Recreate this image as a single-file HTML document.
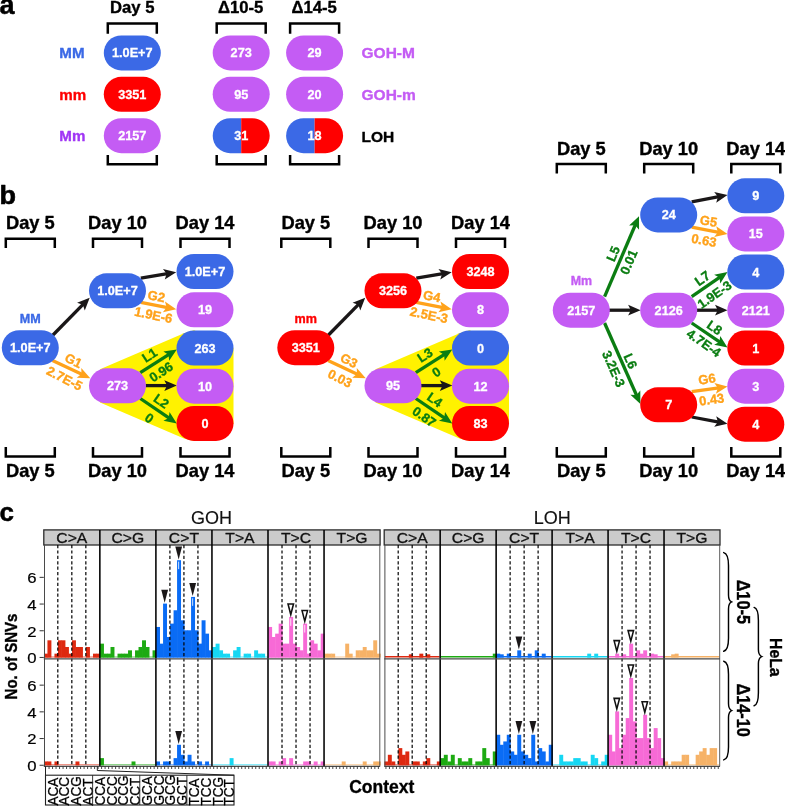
<!DOCTYPE html>
<html lang="en">
<head>
<meta charset="utf-8">
<title>Figure</title>
<style>
html,body{margin:0;padding:0;background:#fff;}
body{width:785px;height:806px;overflow:hidden;}
svg{display:block;font-family:"Liberation Sans",sans-serif;}
</style>
</head>
<body>
<svg width="785" height="806" viewBox="0 0 785 806">
<rect x="0" y="0" width="785" height="806" fill="#fff"/>
<text transform="translate(-0.50,14.20) scale(1.0,1)" font-size="27" font-weight="700" fill="#000000" text-anchor="start" stroke="#000000" stroke-width="0.5" stroke-linejoin="round" >a</text>
<text transform="translate(-0.50,203.50) scale(1.08,1)" font-size="25" font-weight="700" fill="#000000" text-anchor="start" stroke="#000000" stroke-width="0.6" stroke-linejoin="round" >b</text>
<text transform="translate(-0.50,521.20) scale(1.0,1)" font-size="26" font-weight="700" fill="#000000" text-anchor="start" stroke="#000000" stroke-width="0.5" stroke-linejoin="round" >c</text>
<text transform="translate(132.30,12.60) scale(1.0,1)" font-size="16.7" font-weight="700" fill="#000000" text-anchor="middle" stroke="#000000" stroke-width="0.35" stroke-linejoin="round" >Day 5</text>
<text transform="translate(240.60,12.60) scale(1.0,1)" font-size="16.7" font-weight="700" fill="#000000" text-anchor="middle" stroke="#000000" stroke-width="0.35" stroke-linejoin="round" >Δ10-5</text>
<text transform="translate(314.20,12.60) scale(1.0,1)" font-size="16.7" font-weight="700" fill="#000000" text-anchor="middle" stroke="#000000" stroke-width="0.35" stroke-linejoin="round" >Δ14-5</text>
<path d="M107.80,33.70 V23.60 H156.80 V33.70" fill="none" stroke="#000" stroke-width="2.5" stroke-linejoin="miter"/>
<path d="M107.80,155.00 V164.30 H156.80 V155.00" fill="none" stroke="#000" stroke-width="2.5" stroke-linejoin="miter"/>
<path d="M216.70,33.70 V23.60 H265.70 V33.70" fill="none" stroke="#000" stroke-width="2.5" stroke-linejoin="miter"/>
<path d="M216.70,155.00 V164.30 H265.70 V155.00" fill="none" stroke="#000" stroke-width="2.5" stroke-linejoin="miter"/>
<path d="M290.10,33.70 V23.60 H339.10 V33.70" fill="none" stroke="#000" stroke-width="2.5" stroke-linejoin="miter"/>
<path d="M290.10,155.00 V164.30 H339.10 V155.00" fill="none" stroke="#000" stroke-width="2.5" stroke-linejoin="miter"/>
<rect x="103.80" y="35.40" width="57.0" height="35.0" rx="17.5" ry="17.5" fill="#3b69e6"/>
<text x="132.30" y="57.47" font-size="12.7" font-weight="700" fill="#fff" stroke="#fff" stroke-width="0.3" text-anchor="middle">1.0E+7</text>
<rect x="103.80" y="76.80" width="57.0" height="35.0" rx="17.5" ry="17.5" fill="#ff0000"/>
<text x="132.30" y="98.87" font-size="12.7" font-weight="700" fill="#fff" stroke="#fff" stroke-width="0.3" text-anchor="middle">3351</text>
<rect x="103.80" y="118.20" width="57.0" height="35.0" rx="17.5" ry="17.5" fill="#c45cf4"/>
<text x="132.30" y="140.27" font-size="12.7" font-weight="700" fill="#fff" stroke="#fff" stroke-width="0.3" text-anchor="middle">2157</text>
<rect x="212.70" y="35.40" width="57.0" height="35.0" rx="17.5" ry="17.5" fill="#c45cf4"/>
<text x="241.20" y="57.47" font-size="12.7" font-weight="700" fill="#fff" stroke="#fff" stroke-width="0.3" text-anchor="middle">273</text>
<rect x="212.70" y="76.80" width="57.0" height="35.0" rx="17.5" ry="17.5" fill="#c45cf4"/>
<text x="241.20" y="98.87" font-size="12.7" font-weight="700" fill="#fff" stroke="#fff" stroke-width="0.3" text-anchor="middle">95</text>
<path d="M241.20,118.20 H230.20 A17.5,17.5 0 0 0 230.20,153.20 H241.20 Z" fill="#3b69e6"/>
<path d="M241.20,118.20 H252.20 A17.5,17.5 0 0 1 252.20,153.20 H241.20 Z" fill="#ff0000"/>
<text x="241.20" y="140.27" font-size="12.7" font-weight="700" fill="#fff" stroke="#fff" stroke-width="0.3" text-anchor="middle">31</text>
<rect x="286.10" y="35.40" width="57.0" height="35.0" rx="17.5" ry="17.5" fill="#c45cf4"/>
<text x="314.60" y="57.47" font-size="12.7" font-weight="700" fill="#fff" stroke="#fff" stroke-width="0.3" text-anchor="middle">29</text>
<rect x="286.10" y="76.80" width="57.0" height="35.0" rx="17.5" ry="17.5" fill="#c45cf4"/>
<text x="314.60" y="98.87" font-size="12.7" font-weight="700" fill="#fff" stroke="#fff" stroke-width="0.3" text-anchor="middle">20</text>
<path d="M314.60,118.20 H303.60 A17.5,17.5 0 0 0 303.60,153.20 H314.60 Z" fill="#3b69e6"/>
<path d="M314.60,118.20 H325.60 A17.5,17.5 0 0 1 325.60,153.20 H314.60 Z" fill="#ff0000"/>
<text x="314.60" y="140.27" font-size="12.7" font-weight="700" fill="#fff" stroke="#fff" stroke-width="0.3" text-anchor="middle">18</text>
<text transform="translate(59.30,58.40) scale(1.01,1)" font-size="15" font-weight="700" fill="#3b69e6" text-anchor="start" stroke="#3b69e6" stroke-width="0.35" stroke-linejoin="round" >MM</text>
<text transform="translate(59.30,99.80) scale(1.01,1)" font-size="15" font-weight="700" fill="#ff0000" text-anchor="start" stroke="#ff0000" stroke-width="0.35" stroke-linejoin="round" >mm</text>
<text transform="translate(59.30,141.40) scale(1.01,1)" font-size="15" font-weight="700" fill="#a136f5" text-anchor="start" stroke="#a136f5" stroke-width="0.35" stroke-linejoin="round" >Mm</text>
<text transform="translate(361.50,58.40) scale(1.035,1)" font-size="15" font-weight="700" fill="#c45cf4" text-anchor="start" stroke="#c45cf4" stroke-width="0.35" stroke-linejoin="round" >GOH-M</text>
<text transform="translate(361.50,100.00) scale(1.035,1)" font-size="15" font-weight="700" fill="#c45cf4" text-anchor="start" stroke="#c45cf4" stroke-width="0.35" stroke-linejoin="round" >GOH-m</text>
<text transform="translate(361.50,141.60) scale(1.035,1)" font-size="15" font-weight="700" fill="#000000" text-anchor="start" stroke="#000000" stroke-width="0.35" stroke-linejoin="round" >LOH</text>
<text transform="translate(30.30,228.50) scale(1.045,1)" font-size="17.5" font-weight="700" fill="#000000" text-anchor="middle" stroke="#000000" stroke-width="0.35" stroke-linejoin="round" >Day 5</text>
<path d="M5.80,248.10 V238.80 H54.80 V248.10" fill="none" stroke="#000" stroke-width="2.5" stroke-linejoin="miter"/>
<path d="M5.80,447.10 V456.40 H54.80 V447.10" fill="none" stroke="#000" stroke-width="2.5" stroke-linejoin="miter"/>
<text transform="translate(30.30,477.20) scale(1.045,1)" font-size="17.5" font-weight="700" fill="#000000" text-anchor="middle" stroke="#000000" stroke-width="0.35" stroke-linejoin="round" >Day 5</text>
<text transform="translate(117.50,228.50) scale(1.045,1)" font-size="17.5" font-weight="700" fill="#000000" text-anchor="middle" stroke="#000000" stroke-width="0.35" stroke-linejoin="round" >Day 10</text>
<path d="M93.00,248.10 V238.80 H142.00 V248.10" fill="none" stroke="#000" stroke-width="2.5" stroke-linejoin="miter"/>
<path d="M93.00,447.10 V456.40 H142.00 V447.10" fill="none" stroke="#000" stroke-width="2.5" stroke-linejoin="miter"/>
<text transform="translate(117.50,477.20) scale(1.045,1)" font-size="17.5" font-weight="700" fill="#000000" text-anchor="middle" stroke="#000000" stroke-width="0.35" stroke-linejoin="round" >Day 10</text>
<text transform="translate(205.00,228.50) scale(1.045,1)" font-size="17.5" font-weight="700" fill="#000000" text-anchor="middle" stroke="#000000" stroke-width="0.35" stroke-linejoin="round" >Day 14</text>
<path d="M180.50,248.10 V238.80 H229.50 V248.10" fill="none" stroke="#000" stroke-width="2.5" stroke-linejoin="miter"/>
<path d="M180.50,447.10 V456.40 H229.50 V447.10" fill="none" stroke="#000" stroke-width="2.5" stroke-linejoin="miter"/>
<text transform="translate(205.00,477.20) scale(1.045,1)" font-size="17.5" font-weight="700" fill="#000000" text-anchor="middle" stroke="#000000" stroke-width="0.35" stroke-linejoin="round" >Day 14</text>
<polygon points="100.00,369.30 184.00,333.20 194.00,330.30 233.50,348.00 233.50,424.00 194.00,441.00 184.00,438.40 100.00,402.40" fill="#fff200"/>
<line x1="52.50" y1="335.50" x2="83.56" y2="303.94" stroke="#1a1718" stroke-width="3.3"/>
<polygon points="89.70,297.70 84.78,310.40 82.86,304.65 77.08,302.82" fill="#1a1718"/>
<line x1="140.80" y1="278.20" x2="167.57" y2="273.66" stroke="#1a1718" stroke-width="3.3"/>
<polygon points="176.20,272.20 164.78,279.61 166.59,273.83 162.97,268.96" fill="#1a1718"/>
<line x1="140.80" y1="302.40" x2="167.61" y2="307.55" stroke="#ffa21a" stroke-width="3.3"/>
<polygon points="176.20,309.20 162.91,312.15 166.63,307.36 164.94,301.54" fill="#ffa21a"/>
<line x1="52.50" y1="360.50" x2="82.38" y2="374.49" stroke="#ffa21a" stroke-width="3.3"/>
<polygon points="90.30,378.20 76.69,377.79 81.47,374.07 81.27,368.01" fill="#ffa21a"/>
<line x1="140.30" y1="372.60" x2="169.42" y2="354.09" stroke="#0b7d12" stroke-width="3.3"/>
<polygon points="176.80,349.40 169.15,360.66 168.57,354.63 163.35,351.55" fill="#0b7d12"/>
<line x1="145.50" y1="385.60" x2="168.05" y2="385.60" stroke="#1a1718" stroke-width="3.3"/>
<polygon points="176.80,385.60 164.30,391.00 167.05,385.60 164.30,380.20" fill="#1a1718"/>
<line x1="140.30" y1="398.50" x2="169.57" y2="418.47" stroke="#0b7d12" stroke-width="3.3"/>
<polygon points="176.80,423.40 163.43,420.82 168.75,417.91 169.52,411.89" fill="#0b7d12"/>
<rect x="1.80" y="330.20" width="57.0" height="35.0" rx="17.5" ry="17.5" fill="#3b69e6"/>
<text x="30.30" y="352.27" font-size="12.7" font-weight="700" fill="#fff" stroke="#fff" stroke-width="0.3" text-anchor="middle">1.0E+7</text>
<rect x="89.00" y="273.30" width="57.0" height="35.0" rx="17.5" ry="17.5" fill="#3b69e6"/>
<text x="117.50" y="295.37" font-size="12.7" font-weight="700" fill="#fff" stroke="#fff" stroke-width="0.3" text-anchor="middle">1.0E+7</text>
<rect x="89.00" y="368.30" width="57.0" height="35.0" rx="17.5" ry="17.5" fill="#c45cf4"/>
<text x="117.50" y="390.37" font-size="12.7" font-weight="700" fill="#fff" stroke="#fff" stroke-width="0.3" text-anchor="middle">273</text>
<rect x="176.50" y="254.00" width="57.0" height="35.0" rx="17.5" ry="17.5" fill="#3b69e6"/>
<text x="205.00" y="276.07" font-size="12.7" font-weight="700" fill="#fff" stroke="#fff" stroke-width="0.3" text-anchor="middle">1.0E+7</text>
<rect x="176.50" y="292.30" width="57.0" height="35.0" rx="17.5" ry="17.5" fill="#c45cf4"/>
<text x="205.00" y="314.37" font-size="12.7" font-weight="700" fill="#fff" stroke="#fff" stroke-width="0.3" text-anchor="middle">19</text>
<rect x="176.50" y="330.50" width="57.0" height="35.0" rx="17.5" ry="17.5" fill="#3b69e6"/>
<text x="205.00" y="352.57" font-size="12.7" font-weight="700" fill="#fff" stroke="#fff" stroke-width="0.3" text-anchor="middle">263</text>
<rect x="176.50" y="368.70" width="57.0" height="35.0" rx="17.5" ry="17.5" fill="#c45cf4"/>
<text x="205.00" y="390.77" font-size="12.7" font-weight="700" fill="#fff" stroke="#fff" stroke-width="0.3" text-anchor="middle">10</text>
<rect x="176.50" y="405.90" width="57.0" height="35.0" rx="17.5" ry="17.5" fill="#ff0000"/>
<text x="205.00" y="427.97" font-size="12.7" font-weight="700" fill="#fff" stroke="#fff" stroke-width="0.3" text-anchor="middle">0</text>
<text transform="translate(30.30,322.90) scale(1.0,1)" font-size="12.6" font-weight="700" fill="#3b69e6" text-anchor="middle" stroke="#3b69e6" stroke-width="0.35" stroke-linejoin="round" >MM</text>
<text transform="translate(156.50,296.00) rotate(11)" x="0" y="4.68" font-size="13.0" font-weight="700" fill="#ffa21a" stroke="#ffa21a" stroke-width="0.35" text-anchor="middle">G2</text>
<text transform="translate(153.50,314.80) rotate(12)" x="0" y="4.68" font-size="13.0" font-weight="700" fill="#ffa21a" stroke="#ffa21a" stroke-width="0.35" text-anchor="middle">1.9E-6</text>
<text transform="translate(73.50,360.30) rotate(26)" x="0" y="4.68" font-size="13.0" font-weight="700" fill="#ffa21a" stroke="#ffa21a" stroke-width="0.35" text-anchor="middle">G1</text>
<text transform="translate(64.60,378.20) rotate(27)" x="0" y="4.68" font-size="13.0" font-weight="700" fill="#ffa21a" stroke="#ffa21a" stroke-width="0.35" text-anchor="middle">2.7E-5</text>
<text transform="translate(149.50,355.00) rotate(-33)" x="0" y="4.68" font-size="13.0" font-weight="700" fill="#0b7d12" stroke="#0b7d12" stroke-width="0.35" text-anchor="middle">L1</text>
<text transform="translate(161.00,371.80) rotate(-33)" x="0" y="4.68" font-size="13.0" font-weight="700" fill="#0b7d12" stroke="#0b7d12" stroke-width="0.35" text-anchor="middle">0.96</text>
<text transform="translate(161.50,401.00) rotate(35)" x="0" y="4.68" font-size="13.0" font-weight="700" fill="#0b7d12" stroke="#0b7d12" stroke-width="0.35" text-anchor="middle">L2</text>
<text transform="translate(149.30,418.00) rotate(35)" x="0" y="4.68" font-size="13.0" font-weight="700" fill="#0b7d12" stroke="#0b7d12" stroke-width="0.35" text-anchor="middle">0</text>
<text transform="translate(305.80,228.50) scale(1.045,1)" font-size="17.5" font-weight="700" fill="#000000" text-anchor="middle" stroke="#000000" stroke-width="0.35" stroke-linejoin="round" >Day 5</text>
<path d="M281.30,248.10 V238.80 H330.30 V248.10" fill="none" stroke="#000" stroke-width="2.5" stroke-linejoin="miter"/>
<path d="M281.30,447.10 V456.40 H330.30 V447.10" fill="none" stroke="#000" stroke-width="2.5" stroke-linejoin="miter"/>
<text transform="translate(305.80,477.20) scale(1.045,1)" font-size="17.5" font-weight="700" fill="#000000" text-anchor="middle" stroke="#000000" stroke-width="0.35" stroke-linejoin="round" >Day 5</text>
<text transform="translate(393.00,228.50) scale(1.045,1)" font-size="17.5" font-weight="700" fill="#000000" text-anchor="middle" stroke="#000000" stroke-width="0.35" stroke-linejoin="round" >Day 10</text>
<path d="M368.50,248.10 V238.80 H417.50 V248.10" fill="none" stroke="#000" stroke-width="2.5" stroke-linejoin="miter"/>
<path d="M368.50,447.10 V456.40 H417.50 V447.10" fill="none" stroke="#000" stroke-width="2.5" stroke-linejoin="miter"/>
<text transform="translate(393.00,477.20) scale(1.045,1)" font-size="17.5" font-weight="700" fill="#000000" text-anchor="middle" stroke="#000000" stroke-width="0.35" stroke-linejoin="round" >Day 10</text>
<text transform="translate(480.50,228.50) scale(1.045,1)" font-size="17.5" font-weight="700" fill="#000000" text-anchor="middle" stroke="#000000" stroke-width="0.35" stroke-linejoin="round" >Day 14</text>
<path d="M456.00,248.10 V238.80 H505.00 V248.10" fill="none" stroke="#000" stroke-width="2.5" stroke-linejoin="miter"/>
<path d="M456.00,447.10 V456.40 H505.00 V447.10" fill="none" stroke="#000" stroke-width="2.5" stroke-linejoin="miter"/>
<text transform="translate(480.50,477.20) scale(1.045,1)" font-size="17.5" font-weight="700" fill="#000000" text-anchor="middle" stroke="#000000" stroke-width="0.35" stroke-linejoin="round" >Day 14</text>
<polygon points="375.50,369.30 459.50,333.20 469.50,330.30 509.00,348.00 509.00,424.00 469.50,441.00 459.50,438.40 375.50,402.40" fill="#fff200"/>
<line x1="328.00" y1="335.50" x2="359.06" y2="303.94" stroke="#1a1718" stroke-width="3.3"/>
<polygon points="365.20,297.70 360.28,310.40 358.36,304.65 352.58,302.82" fill="#1a1718"/>
<line x1="416.30" y1="278.20" x2="443.07" y2="273.66" stroke="#1a1718" stroke-width="3.3"/>
<polygon points="451.70,272.20 440.28,279.61 442.09,273.83 438.47,268.96" fill="#1a1718"/>
<line x1="416.30" y1="302.40" x2="443.11" y2="307.55" stroke="#ffa21a" stroke-width="3.3"/>
<polygon points="451.70,309.20 438.41,312.15 442.13,307.36 440.44,301.54" fill="#ffa21a"/>
<line x1="328.00" y1="360.50" x2="357.88" y2="374.49" stroke="#ffa21a" stroke-width="3.3"/>
<polygon points="365.80,378.20 352.19,377.79 356.97,374.07 356.77,368.01" fill="#ffa21a"/>
<line x1="415.80" y1="372.60" x2="444.92" y2="354.09" stroke="#0b7d12" stroke-width="3.3"/>
<polygon points="452.30,349.40 444.65,360.66 444.07,354.63 438.85,351.55" fill="#0b7d12"/>
<line x1="421.00" y1="385.60" x2="443.55" y2="385.60" stroke="#1a1718" stroke-width="3.3"/>
<polygon points="452.30,385.60 439.80,391.00 442.55,385.60 439.80,380.20" fill="#1a1718"/>
<line x1="415.80" y1="398.50" x2="445.07" y2="418.47" stroke="#0b7d12" stroke-width="3.3"/>
<polygon points="452.30,423.40 438.93,420.82 444.25,417.91 445.02,411.89" fill="#0b7d12"/>
<rect x="277.30" y="330.20" width="57.0" height="35.0" rx="17.5" ry="17.5" fill="#ff0000"/>
<text x="305.80" y="352.27" font-size="12.7" font-weight="700" fill="#fff" stroke="#fff" stroke-width="0.3" text-anchor="middle">3351</text>
<rect x="364.50" y="273.30" width="57.0" height="35.0" rx="17.5" ry="17.5" fill="#ff0000"/>
<text x="393.00" y="295.37" font-size="12.7" font-weight="700" fill="#fff" stroke="#fff" stroke-width="0.3" text-anchor="middle">3256</text>
<rect x="364.50" y="368.30" width="57.0" height="35.0" rx="17.5" ry="17.5" fill="#c45cf4"/>
<text x="393.00" y="390.37" font-size="12.7" font-weight="700" fill="#fff" stroke="#fff" stroke-width="0.3" text-anchor="middle">95</text>
<rect x="452.00" y="254.00" width="57.0" height="35.0" rx="17.5" ry="17.5" fill="#ff0000"/>
<text x="480.50" y="276.07" font-size="12.7" font-weight="700" fill="#fff" stroke="#fff" stroke-width="0.3" text-anchor="middle">3248</text>
<rect x="452.00" y="292.30" width="57.0" height="35.0" rx="17.5" ry="17.5" fill="#c45cf4"/>
<text x="480.50" y="314.37" font-size="12.7" font-weight="700" fill="#fff" stroke="#fff" stroke-width="0.3" text-anchor="middle">8</text>
<rect x="452.00" y="330.50" width="57.0" height="35.0" rx="17.5" ry="17.5" fill="#3b69e6"/>
<text x="480.50" y="352.57" font-size="12.7" font-weight="700" fill="#fff" stroke="#fff" stroke-width="0.3" text-anchor="middle">0</text>
<rect x="452.00" y="368.70" width="57.0" height="35.0" rx="17.5" ry="17.5" fill="#c45cf4"/>
<text x="480.50" y="390.77" font-size="12.7" font-weight="700" fill="#fff" stroke="#fff" stroke-width="0.3" text-anchor="middle">12</text>
<rect x="452.00" y="405.90" width="57.0" height="35.0" rx="17.5" ry="17.5" fill="#ff0000"/>
<text x="480.50" y="427.97" font-size="12.7" font-weight="700" fill="#fff" stroke="#fff" stroke-width="0.3" text-anchor="middle">83</text>
<text transform="translate(305.80,322.90) scale(1.0,1)" font-size="12.6" font-weight="700" fill="#ff0000" text-anchor="middle" stroke="#ff0000" stroke-width="0.35" stroke-linejoin="round" >mm</text>
<text transform="translate(432.00,296.00) rotate(11)" x="0" y="4.68" font-size="13.0" font-weight="700" fill="#ffa21a" stroke="#ffa21a" stroke-width="0.35" text-anchor="middle">G4</text>
<text transform="translate(429.00,314.80) rotate(12)" x="0" y="4.68" font-size="13.0" font-weight="700" fill="#ffa21a" stroke="#ffa21a" stroke-width="0.35" text-anchor="middle">2.5E-3</text>
<text transform="translate(349.00,360.30) rotate(26)" x="0" y="4.68" font-size="13.0" font-weight="700" fill="#ffa21a" stroke="#ffa21a" stroke-width="0.35" text-anchor="middle">G3</text>
<text transform="translate(340.10,378.20) rotate(27)" x="0" y="4.68" font-size="13.0" font-weight="700" fill="#ffa21a" stroke="#ffa21a" stroke-width="0.35" text-anchor="middle">0.03</text>
<text transform="translate(424.80,355.00) rotate(-33)" x="0" y="4.68" font-size="13.0" font-weight="700" fill="#0b7d12" stroke="#0b7d12" stroke-width="0.35" text-anchor="middle">L3</text>
<text transform="translate(436.10,371.80) rotate(-33)" x="0" y="4.68" font-size="13.0" font-weight="700" fill="#0b7d12" stroke="#0b7d12" stroke-width="0.35" text-anchor="middle">0</text>
<text transform="translate(434.80,399.60) rotate(35)" x="0" y="4.68" font-size="13.0" font-weight="700" fill="#0b7d12" stroke="#0b7d12" stroke-width="0.35" text-anchor="middle">L4</text>
<text transform="translate(424.30,416.60) rotate(35)" x="0" y="4.68" font-size="13.0" font-weight="700" fill="#0b7d12" stroke="#0b7d12" stroke-width="0.35" text-anchor="middle">0.87</text>
<text transform="translate(581.30,154.60) scale(1.045,1)" font-size="17.5" font-weight="700" fill="#000000" text-anchor="middle" stroke="#000000" stroke-width="0.35" stroke-linejoin="round" >Day 5</text>
<path d="M556.80,173.40 V164.10 H605.80 V173.40" fill="none" stroke="#000" stroke-width="2.5" stroke-linejoin="miter"/>
<path d="M556.80,447.10 V456.40 H605.80 V447.10" fill="none" stroke="#000" stroke-width="2.5" stroke-linejoin="miter"/>
<text transform="translate(581.30,477.20) scale(1.045,1)" font-size="17.5" font-weight="700" fill="#000000" text-anchor="middle" stroke="#000000" stroke-width="0.35" stroke-linejoin="round" >Day 5</text>
<text transform="translate(668.70,154.60) scale(1.045,1)" font-size="17.5" font-weight="700" fill="#000000" text-anchor="middle" stroke="#000000" stroke-width="0.35" stroke-linejoin="round" >Day 10</text>
<path d="M644.20,173.40 V164.10 H693.20 V173.40" fill="none" stroke="#000" stroke-width="2.5" stroke-linejoin="miter"/>
<path d="M644.20,447.10 V456.40 H693.20 V447.10" fill="none" stroke="#000" stroke-width="2.5" stroke-linejoin="miter"/>
<text transform="translate(668.70,477.20) scale(1.045,1)" font-size="17.5" font-weight="700" fill="#000000" text-anchor="middle" stroke="#000000" stroke-width="0.35" stroke-linejoin="round" >Day 10</text>
<text transform="translate(755.80,154.60) scale(1.045,1)" font-size="17.5" font-weight="700" fill="#000000" text-anchor="middle" stroke="#000000" stroke-width="0.35" stroke-linejoin="round" >Day 14</text>
<path d="M731.30,173.40 V164.10 H780.30 V173.40" fill="none" stroke="#000" stroke-width="2.5" stroke-linejoin="miter"/>
<path d="M731.30,447.10 V456.40 H780.30 V447.10" fill="none" stroke="#000" stroke-width="2.5" stroke-linejoin="miter"/>
<text transform="translate(755.80,477.20) scale(1.045,1)" font-size="17.5" font-weight="700" fill="#000000" text-anchor="middle" stroke="#000000" stroke-width="0.35" stroke-linejoin="round" >Day 14</text>
<line x1="604.60" y1="296.60" x2="635.56" y2="224.24" stroke="#0b7d12" stroke-width="3.3"/>
<polygon points="639.00,216.20 639.05,229.82 635.16,225.16 629.12,225.57" fill="#0b7d12"/>
<line x1="691.70" y1="201.80" x2="718.90" y2="196.63" stroke="#1a1718" stroke-width="3.3"/>
<polygon points="727.50,195.00 716.23,202.64 717.92,196.82 714.21,192.03" fill="#1a1718"/>
<line x1="691.70" y1="227.20" x2="718.90" y2="232.37" stroke="#ffa21a" stroke-width="3.3"/>
<polygon points="727.50,234.00 714.21,236.97 717.92,232.18 716.23,226.36" fill="#ffa21a"/>
<line x1="609.00" y1="310.20" x2="631.85" y2="310.20" stroke="#1a1718" stroke-width="3.3"/>
<polygon points="640.60,310.20 628.10,315.60 630.85,310.20 628.10,304.80" fill="#1a1718"/>
<line x1="691.70" y1="296.60" x2="720.29" y2="276.96" stroke="#0b7d12" stroke-width="3.3"/>
<polygon points="727.50,272.00 720.26,283.53 719.46,277.52 714.14,274.63" fill="#0b7d12"/>
<line x1="696.00" y1="310.20" x2="718.75" y2="310.20" stroke="#1a1718" stroke-width="3.3"/>
<polygon points="727.50,310.20 715.00,315.60 717.75,310.20 715.00,304.80" fill="#1a1718"/>
<line x1="691.70" y1="323.00" x2="720.27" y2="342.47" stroke="#0b7d12" stroke-width="3.3"/>
<polygon points="727.50,347.40 714.13,344.82 719.44,341.91 720.21,335.90" fill="#0b7d12"/>
<line x1="604.60" y1="323.00" x2="636.86" y2="396.00" stroke="#0b7d12" stroke-width="3.3"/>
<polygon points="640.40,404.00 630.41,394.75 636.46,395.08 640.29,390.38" fill="#0b7d12"/>
<line x1="691.70" y1="391.70" x2="718.84" y2="387.76" stroke="#ffa21a" stroke-width="3.3"/>
<polygon points="727.50,386.50 715.91,393.64 717.85,387.90 714.35,382.95" fill="#ffa21a"/>
<line x1="691.70" y1="417.00" x2="718.90" y2="422.17" stroke="#1a1718" stroke-width="3.3"/>
<polygon points="727.50,423.80 714.21,426.77 717.92,421.98 716.23,416.16" fill="#1a1718"/>
<rect x="552.80" y="292.70" width="57.0" height="35.0" rx="17.5" ry="17.5" fill="#c45cf4"/>
<text x="581.30" y="314.77" font-size="12.7" font-weight="700" fill="#fff" stroke="#fff" stroke-width="0.3" text-anchor="middle">2157</text>
<rect x="640.20" y="197.40" width="57.0" height="35.0" rx="17.5" ry="17.5" fill="#3b69e6"/>
<text x="668.70" y="219.47" font-size="12.7" font-weight="700" fill="#fff" stroke="#fff" stroke-width="0.3" text-anchor="middle">24</text>
<rect x="640.20" y="292.70" width="57.0" height="35.0" rx="17.5" ry="17.5" fill="#c45cf4"/>
<text x="668.70" y="314.77" font-size="12.7" font-weight="700" fill="#fff" stroke="#fff" stroke-width="0.3" text-anchor="middle">2126</text>
<rect x="640.20" y="387.30" width="57.0" height="35.0" rx="17.5" ry="17.5" fill="#ff0000"/>
<text x="668.70" y="409.37" font-size="12.7" font-weight="700" fill="#fff" stroke="#fff" stroke-width="0.3" text-anchor="middle">7</text>
<rect x="727.30" y="178.30" width="57.0" height="35.0" rx="17.5" ry="17.5" fill="#3b69e6"/>
<text x="755.80" y="200.37" font-size="12.7" font-weight="700" fill="#fff" stroke="#fff" stroke-width="0.3" text-anchor="middle">9</text>
<rect x="727.30" y="216.40" width="57.0" height="35.0" rx="17.5" ry="17.5" fill="#c45cf4"/>
<text x="755.80" y="238.47" font-size="12.7" font-weight="700" fill="#fff" stroke="#fff" stroke-width="0.3" text-anchor="middle">15</text>
<rect x="727.30" y="254.50" width="57.0" height="35.0" rx="17.5" ry="17.5" fill="#3b69e6"/>
<text x="755.80" y="276.57" font-size="12.7" font-weight="700" fill="#fff" stroke="#fff" stroke-width="0.3" text-anchor="middle">4</text>
<rect x="727.30" y="292.70" width="57.0" height="35.0" rx="17.5" ry="17.5" fill="#c45cf4"/>
<text x="755.80" y="314.77" font-size="12.7" font-weight="700" fill="#fff" stroke="#fff" stroke-width="0.3" text-anchor="middle">2121</text>
<rect x="727.30" y="330.50" width="57.0" height="35.0" rx="17.5" ry="17.5" fill="#ff0000"/>
<text x="755.80" y="352.57" font-size="12.7" font-weight="700" fill="#fff" stroke="#fff" stroke-width="0.3" text-anchor="middle">1</text>
<rect x="727.30" y="368.70" width="57.0" height="35.0" rx="17.5" ry="17.5" fill="#c45cf4"/>
<text x="755.80" y="390.77" font-size="12.7" font-weight="700" fill="#fff" stroke="#fff" stroke-width="0.3" text-anchor="middle">3</text>
<rect x="727.30" y="406.70" width="57.0" height="35.0" rx="17.5" ry="17.5" fill="#ff0000"/>
<text x="755.80" y="428.77" font-size="12.7" font-weight="700" fill="#fff" stroke="#fff" stroke-width="0.3" text-anchor="middle">4</text>
<text transform="translate(581.30,284.50) scale(1.0,1)" font-size="12.4" font-weight="700" fill="#c45cf4" text-anchor="middle" stroke="#c45cf4" stroke-width="0.35" stroke-linejoin="round" >Mm</text>
<text transform="translate(613.00,253.80) rotate(-67)" x="0" y="4.68" font-size="13.0" font-weight="700" fill="#0b7d12" stroke="#0b7d12" stroke-width="0.35" text-anchor="middle">L5</text>
<text transform="translate(628.60,262.00) rotate(-67)" x="0" y="4.68" font-size="13.0" font-weight="700" fill="#0b7d12" stroke="#0b7d12" stroke-width="0.35" text-anchor="middle">0.01</text>
<text transform="translate(708.60,221.00) rotate(10)" x="0" y="4.68" font-size="13.0" font-weight="700" fill="#ffa21a" stroke="#ffa21a" stroke-width="0.35" text-anchor="middle">G5</text>
<text transform="translate(704.00,240.20) rotate(10)" x="0" y="4.68" font-size="13.0" font-weight="700" fill="#ffa21a" stroke="#ffa21a" stroke-width="0.35" text-anchor="middle">0.63</text>
<text transform="translate(702.20,278.20) rotate(-35)" x="0" y="4.68" font-size="13.0" font-weight="700" fill="#0b7d12" stroke="#0b7d12" stroke-width="0.35" text-anchor="middle">L7</text>
<text transform="translate(714.40,294.40) rotate(-35)" x="0" y="4.68" font-size="13.0" font-weight="700" fill="#0b7d12" stroke="#0b7d12" stroke-width="0.35" text-anchor="middle">1.9E-3</text>
<text transform="translate(714.70,327.50) rotate(35)" x="0" y="4.68" font-size="13.0" font-weight="700" fill="#0b7d12" stroke="#0b7d12" stroke-width="0.35" text-anchor="middle">L8</text>
<text transform="translate(704.00,342.80) rotate(35)" x="0" y="4.68" font-size="13.0" font-weight="700" fill="#0b7d12" stroke="#0b7d12" stroke-width="0.35" text-anchor="middle">4.7E-4</text>
<text transform="translate(630.60,361.00) rotate(66)" x="0" y="4.68" font-size="13.0" font-weight="700" fill="#0b7d12" stroke="#0b7d12" stroke-width="0.35" text-anchor="middle">L6</text>
<text transform="translate(613.80,368.80) rotate(66)" x="0" y="4.68" font-size="13.0" font-weight="700" fill="#0b7d12" stroke="#0b7d12" stroke-width="0.35" text-anchor="middle">3.2E-3</text>
<text transform="translate(707.00,378.90) rotate(-8)" x="0" y="4.68" font-size="13.0" font-weight="700" fill="#ffa21a" stroke="#ffa21a" stroke-width="0.35" text-anchor="middle">G6</text>
<text transform="translate(711.60,399.40) rotate(-8)" x="0" y="4.68" font-size="13.0" font-weight="700" fill="#ffa21a" stroke="#ffa21a" stroke-width="0.35" text-anchor="middle">0.43</text>
<rect x="43.80" y="529.9" width="336.30" height="15.10" fill="#cbcbcb" stroke="#2b2b2b" stroke-width="1.3"/>
<text transform="translate(71.83,542.80) scale(1.1,1)" font-size="14.3" font-weight="400" fill="#111" text-anchor="middle" stroke="#111" stroke-width="0.3" stroke-linejoin="round" >C&gt;A</text>
<rect x="44.40" y="656.50" width="54.85" height="1.0" fill="#de2910" opacity="0.7"/>
<rect x="43.95" y="653.66" width="3.95" height="3.94" fill="#de2910"/>
<rect x="47.45" y="640.31" width="3.95" height="17.29" fill="#de2910"/>
<rect x="54.46" y="653.66" width="3.95" height="3.94" fill="#de2910"/>
<rect x="57.96" y="640.31" width="3.95" height="17.29" fill="#de2910"/>
<rect x="61.47" y="640.31" width="3.95" height="17.29" fill="#de2910"/>
<rect x="64.97" y="646.99" width="3.95" height="10.61" fill="#de2910"/>
<rect x="68.47" y="653.66" width="3.95" height="3.94" fill="#de2910"/>
<rect x="71.98" y="640.31" width="3.95" height="17.29" fill="#de2910"/>
<rect x="75.48" y="646.99" width="3.95" height="10.61" fill="#de2910"/>
<rect x="78.98" y="646.99" width="3.95" height="10.61" fill="#de2910"/>
<rect x="85.99" y="646.99" width="3.95" height="10.61" fill="#de2910"/>
<rect x="92.99" y="653.66" width="3.95" height="3.94" fill="#de2910"/>
<rect x="96.50" y="653.66" width="3.95" height="3.94" fill="#de2910"/>
<rect x="44.40" y="764.30" width="54.85" height="1.0" fill="#de2910" opacity="0.7"/>
<rect x="43.95" y="761.46" width="3.95" height="3.94" fill="#de2910"/>
<rect x="47.45" y="761.46" width="3.95" height="3.94" fill="#de2910"/>
<rect x="54.46" y="761.46" width="3.95" height="3.94" fill="#de2910"/>
<rect x="75.48" y="761.46" width="3.95" height="3.94" fill="#de2910"/>
<text transform="translate(127.88,542.80) scale(1.1,1)" font-size="14.3" font-weight="400" fill="#111" text-anchor="middle" stroke="#111" stroke-width="0.3" stroke-linejoin="round" >C&gt;G</text>
<rect x="100.45" y="656.50" width="54.85" height="1.0" fill="#1daa12" opacity="0.7"/>
<rect x="100.00" y="643.65" width="3.95" height="13.95" fill="#1daa12"/>
<rect x="103.50" y="653.66" width="3.95" height="3.94" fill="#1daa12"/>
<rect x="107.01" y="653.66" width="3.95" height="3.94" fill="#1daa12"/>
<rect x="110.51" y="646.99" width="3.95" height="10.61" fill="#1daa12"/>
<rect x="117.52" y="653.66" width="3.95" height="3.94" fill="#1daa12"/>
<rect x="121.02" y="653.66" width="3.95" height="3.94" fill="#1daa12"/>
<rect x="124.52" y="653.66" width="3.95" height="3.94" fill="#1daa12"/>
<rect x="128.03" y="650.33" width="3.95" height="7.27" fill="#1daa12"/>
<rect x="135.03" y="650.33" width="3.95" height="7.27" fill="#1daa12"/>
<rect x="138.53" y="646.99" width="3.95" height="10.61" fill="#1daa12"/>
<rect x="142.04" y="640.31" width="3.95" height="17.29" fill="#1daa12"/>
<rect x="145.54" y="646.99" width="3.95" height="10.61" fill="#1daa12"/>
<rect x="152.55" y="650.33" width="3.95" height="7.27" fill="#1daa12"/>
<rect x="100.45" y="764.30" width="54.85" height="1.0" fill="#1daa12" opacity="0.7"/>
<rect x="100.00" y="758.12" width="3.95" height="7.27" fill="#1daa12"/>
<rect x="131.53" y="761.46" width="3.95" height="3.94" fill="#1daa12"/>
<text transform="translate(183.93,542.80) scale(1.1,1)" font-size="14.3" font-weight="400" fill="#111" text-anchor="middle" stroke="#111" stroke-width="0.3" stroke-linejoin="round" >C&gt;T</text>
<rect x="156.50" y="656.50" width="54.85" height="1.0" fill="#0a6cf5" opacity="0.7"/>
<rect x="156.05" y="626.96" width="3.95" height="30.64" fill="#0a6cf5"/>
<rect x="159.55" y="643.65" width="3.95" height="13.95" fill="#0a6cf5"/>
<rect x="163.06" y="603.60" width="3.95" height="54.00" fill="#0a6cf5"/>
<rect x="166.56" y="636.98" width="3.95" height="20.62" fill="#0a6cf5"/>
<rect x="170.06" y="623.62" width="3.95" height="33.98" fill="#0a6cf5"/>
<rect x="173.57" y="610.27" width="3.95" height="47.33" fill="#0a6cf5"/>
<rect x="177.07" y="560.21" width="3.95" height="97.39" fill="#0a6cf5"/>
<rect x="180.57" y="620.29" width="3.95" height="37.31" fill="#0a6cf5"/>
<rect x="184.08" y="630.30" width="3.95" height="27.30" fill="#0a6cf5"/>
<rect x="187.58" y="630.30" width="3.95" height="27.30" fill="#0a6cf5"/>
<rect x="191.08" y="596.92" width="3.95" height="60.67" fill="#0a6cf5"/>
<rect x="194.58" y="630.30" width="3.95" height="27.30" fill="#0a6cf5"/>
<rect x="198.09" y="643.65" width="3.95" height="13.95" fill="#0a6cf5"/>
<rect x="201.59" y="620.29" width="3.95" height="37.31" fill="#0a6cf5"/>
<rect x="205.09" y="633.64" width="3.95" height="23.96" fill="#0a6cf5"/>
<rect x="208.60" y="650.33" width="3.95" height="7.27" fill="#0a6cf5"/>
<rect x="156.50" y="764.30" width="54.85" height="1.0" fill="#0a6cf5" opacity="0.7"/>
<rect x="156.05" y="761.46" width="3.95" height="3.94" fill="#0a6cf5"/>
<rect x="163.06" y="761.46" width="3.95" height="3.94" fill="#0a6cf5"/>
<rect x="166.56" y="761.46" width="3.95" height="3.94" fill="#0a6cf5"/>
<rect x="173.57" y="758.12" width="3.95" height="7.27" fill="#0a6cf5"/>
<rect x="177.07" y="744.77" width="3.95" height="20.62" fill="#0a6cf5"/>
<rect x="180.57" y="754.79" width="3.95" height="10.61" fill="#0a6cf5"/>
<rect x="184.08" y="761.46" width="3.95" height="3.94" fill="#0a6cf5"/>
<rect x="187.58" y="754.79" width="3.95" height="10.61" fill="#0a6cf5"/>
<rect x="191.08" y="761.46" width="3.95" height="3.94" fill="#0a6cf5"/>
<rect x="198.09" y="761.46" width="3.95" height="3.94" fill="#0a6cf5"/>
<rect x="205.09" y="761.46" width="3.95" height="3.94" fill="#0a6cf5"/>
<text transform="translate(239.97,542.80) scale(1.1,1)" font-size="14.3" font-weight="400" fill="#111" text-anchor="middle" stroke="#111" stroke-width="0.3" stroke-linejoin="round" >T&gt;A</text>
<rect x="212.55" y="656.50" width="54.85" height="1.0" fill="#16d7f3" opacity="0.7"/>
<rect x="212.10" y="646.99" width="3.95" height="10.61" fill="#16d7f3"/>
<rect x="215.60" y="643.65" width="3.95" height="13.95" fill="#16d7f3"/>
<rect x="219.11" y="650.33" width="3.95" height="7.27" fill="#16d7f3"/>
<rect x="222.61" y="653.66" width="3.95" height="3.94" fill="#16d7f3"/>
<rect x="226.11" y="653.66" width="3.95" height="3.94" fill="#16d7f3"/>
<rect x="233.12" y="650.33" width="3.95" height="7.27" fill="#16d7f3"/>
<rect x="236.62" y="646.99" width="3.95" height="10.61" fill="#16d7f3"/>
<rect x="243.63" y="653.66" width="3.95" height="3.94" fill="#16d7f3"/>
<rect x="247.13" y="653.66" width="3.95" height="3.94" fill="#16d7f3"/>
<rect x="254.14" y="650.33" width="3.95" height="7.27" fill="#16d7f3"/>
<rect x="257.64" y="653.66" width="3.95" height="3.94" fill="#16d7f3"/>
<rect x="261.14" y="653.66" width="3.95" height="3.94" fill="#16d7f3"/>
<rect x="212.55" y="764.30" width="54.85" height="1.0" fill="#16d7f3" opacity="0.7"/>
<rect x="229.62" y="758.12" width="3.95" height="7.27" fill="#16d7f3"/>
<text transform="translate(296.02,542.80) scale(1.1,1)" font-size="14.3" font-weight="400" fill="#111" text-anchor="middle" stroke="#111" stroke-width="0.3" stroke-linejoin="round" >T&gt;C</text>
<rect x="268.60" y="656.50" width="54.85" height="1.0" fill="#f76ad6" opacity="0.7"/>
<rect x="268.15" y="626.96" width="3.95" height="30.64" fill="#f76ad6"/>
<rect x="271.65" y="636.98" width="3.95" height="20.62" fill="#f76ad6"/>
<rect x="275.16" y="633.64" width="3.95" height="23.96" fill="#f76ad6"/>
<rect x="278.66" y="623.62" width="3.95" height="33.98" fill="#f76ad6"/>
<rect x="282.16" y="643.65" width="3.95" height="13.95" fill="#f76ad6"/>
<rect x="285.67" y="643.65" width="3.95" height="13.95" fill="#f76ad6"/>
<rect x="289.17" y="616.95" width="3.95" height="40.65" fill="#f76ad6"/>
<rect x="292.67" y="643.65" width="3.95" height="13.95" fill="#f76ad6"/>
<rect x="296.17" y="646.99" width="3.95" height="10.61" fill="#f76ad6"/>
<rect x="299.68" y="650.33" width="3.95" height="7.27" fill="#f76ad6"/>
<rect x="303.18" y="623.62" width="3.95" height="33.98" fill="#f76ad6"/>
<rect x="306.68" y="653.66" width="3.95" height="3.94" fill="#f76ad6"/>
<rect x="310.19" y="640.31" width="3.95" height="17.29" fill="#f76ad6"/>
<rect x="313.69" y="643.65" width="3.95" height="13.95" fill="#f76ad6"/>
<rect x="317.19" y="650.33" width="3.95" height="7.27" fill="#f76ad6"/>
<rect x="320.70" y="633.64" width="3.95" height="23.96" fill="#f76ad6"/>
<rect x="268.60" y="764.30" width="54.85" height="1.0" fill="#f76ad6" opacity="0.7"/>
<rect x="268.15" y="761.46" width="3.95" height="3.94" fill="#f76ad6"/>
<rect x="271.65" y="761.46" width="3.95" height="3.94" fill="#f76ad6"/>
<rect x="278.66" y="761.46" width="3.95" height="3.94" fill="#f76ad6"/>
<rect x="282.16" y="758.12" width="3.95" height="7.27" fill="#f76ad6"/>
<rect x="289.17" y="758.12" width="3.95" height="7.27" fill="#f76ad6"/>
<rect x="303.18" y="761.46" width="3.95" height="3.94" fill="#f76ad6"/>
<rect x="306.68" y="761.46" width="3.95" height="3.94" fill="#f76ad6"/>
<rect x="313.69" y="761.46" width="3.95" height="3.94" fill="#f76ad6"/>
<rect x="320.70" y="761.46" width="3.95" height="3.94" fill="#f76ad6"/>
<text transform="translate(352.07,542.80) scale(1.1,1)" font-size="14.3" font-weight="400" fill="#111" text-anchor="middle" stroke="#111" stroke-width="0.3" stroke-linejoin="round" >T&gt;G</text>
<rect x="324.65" y="656.50" width="54.85" height="1.0" fill="#f6b267" opacity="0.7"/>
<rect x="324.20" y="653.66" width="3.95" height="3.94" fill="#f6b267"/>
<rect x="327.70" y="653.66" width="3.95" height="3.94" fill="#f6b267"/>
<rect x="331.21" y="653.66" width="3.95" height="3.94" fill="#f6b267"/>
<rect x="345.22" y="643.65" width="3.95" height="13.95" fill="#f6b267"/>
<rect x="348.72" y="653.66" width="3.95" height="3.94" fill="#f6b267"/>
<rect x="355.73" y="650.33" width="3.95" height="7.27" fill="#f6b267"/>
<rect x="359.23" y="650.33" width="3.95" height="7.27" fill="#f6b267"/>
<rect x="362.73" y="646.99" width="3.95" height="10.61" fill="#f6b267"/>
<rect x="366.24" y="650.33" width="3.95" height="7.27" fill="#f6b267"/>
<rect x="369.74" y="650.33" width="3.95" height="7.27" fill="#f6b267"/>
<rect x="373.24" y="640.31" width="3.95" height="17.29" fill="#f6b267"/>
<rect x="376.75" y="653.66" width="3.95" height="3.94" fill="#f6b267"/>
<rect x="324.65" y="764.30" width="54.85" height="1.0" fill="#f6b267" opacity="0.7"/>
<rect x="341.72" y="761.46" width="3.95" height="3.94" fill="#f6b267"/>
<rect x="362.73" y="761.46" width="3.95" height="3.94" fill="#f6b267"/>
<rect x="373.24" y="761.46" width="3.95" height="3.94" fill="#f6b267"/>
<rect x="376.75" y="761.46" width="3.95" height="3.94" fill="#f6b267"/>
<line x1="57.81" y1="545.0" x2="57.81" y2="766.4" stroke="#000" stroke-width="1.2" stroke-dasharray="3.2,2.2"/>
<line x1="71.83" y1="545.0" x2="71.83" y2="766.4" stroke="#000" stroke-width="1.2" stroke-dasharray="3.2,2.2"/>
<line x1="85.84" y1="545.0" x2="85.84" y2="766.4" stroke="#000" stroke-width="1.2" stroke-dasharray="3.2,2.2"/>
<line x1="169.91" y1="545.0" x2="169.91" y2="766.4" stroke="#000" stroke-width="1.2" stroke-dasharray="3.2,2.2"/>
<line x1="183.93" y1="545.0" x2="183.93" y2="766.4" stroke="#000" stroke-width="1.2" stroke-dasharray="3.2,2.2"/>
<line x1="197.94" y1="545.0" x2="197.94" y2="766.4" stroke="#000" stroke-width="1.2" stroke-dasharray="3.2,2.2"/>
<line x1="282.01" y1="545.0" x2="282.01" y2="766.4" stroke="#000" stroke-width="1.2" stroke-dasharray="3.2,2.2"/>
<line x1="296.02" y1="545.0" x2="296.02" y2="766.4" stroke="#000" stroke-width="1.2" stroke-dasharray="3.2,2.2"/>
<line x1="310.04" y1="545.0" x2="310.04" y2="766.4" stroke="#000" stroke-width="1.2" stroke-dasharray="3.2,2.2"/>
<polygon points="161.26,589.80 168.06,589.80 164.66,602.80" fill="#1a1718"/>
<rect x="178.22" y="561.61" width="0.9" height="7.5" fill="#fff" opacity="0.9"/>
<polygon points="175.27,546.41 182.07,546.41 178.67,559.41" fill="#1a1718"/>
<rect x="192.23" y="598.33" width="0.9" height="7.5" fill="#fff" opacity="0.9"/>
<polygon points="189.28,583.12 196.08,583.12 192.68,596.12" fill="#1a1718"/>
<rect x="290.32" y="618.35" width="0.9" height="7.5" fill="#fff" opacity="0.9"/>
<polygon points="288.02,603.90 293.52,603.90 290.77,614.55" fill="#fff" stroke="#111" stroke-width="1.55" stroke-linejoin="miter"/>
<rect x="304.33" y="625.03" width="0.9" height="7.5" fill="#fff" opacity="0.9"/>
<polygon points="302.03,610.58 307.53,610.58 304.78,621.23" fill="#fff" stroke="#111" stroke-width="1.55" stroke-linejoin="miter"/>
<polygon points="175.27,730.98 182.07,730.98 178.67,743.98" fill="#1a1718"/>
<line x1="44.50" y1="545.0" x2="44.50" y2="766.4" stroke="#4a4a4a" stroke-width="1"/>
<line x1="379.80" y1="545.0" x2="379.80" y2="766.4" stroke="#4a4a4a" stroke-width="0.9"/>
<line x1="99.85" y1="529.9" x2="99.85" y2="766.4" stroke="#000" stroke-width="1.55"/>
<line x1="155.90" y1="529.9" x2="155.90" y2="766.4" stroke="#000" stroke-width="1.55"/>
<line x1="211.95" y1="529.9" x2="211.95" y2="766.4" stroke="#000" stroke-width="1.55"/>
<line x1="268.00" y1="529.9" x2="268.00" y2="766.4" stroke="#000" stroke-width="1.55"/>
<line x1="324.05" y1="529.9" x2="324.05" y2="766.4" stroke="#000" stroke-width="1.55"/>
<line x1="43.80" y1="658.9" x2="380.10" y2="658.9" stroke="#4a4a4a" stroke-width="1.3"/>
<line x1="43.80" y1="766.4" x2="380.10" y2="766.4" stroke="#4a4a4a" stroke-width="1.2"/>
<path d="M45.55,766.4v2.6M49.05,766.4v2.6M52.56,766.4v2.6M56.06,766.4v2.6M59.56,766.4v2.6M63.07,766.4v2.6M66.57,766.4v2.6M70.07,766.4v2.6M73.58,766.4v2.6M77.08,766.4v2.6M80.58,766.4v2.6M84.09,766.4v2.6M87.59,766.4v2.6M91.09,766.4v2.6M94.60,766.4v2.6M98.10,766.4v2.6M101.60,766.4v2.6M105.10,766.4v2.6M108.61,766.4v2.6M112.11,766.4v2.6M115.61,766.4v2.6M119.12,766.4v2.6M122.62,766.4v2.6M126.12,766.4v2.6M129.63,766.4v2.6M133.13,766.4v2.6M136.63,766.4v2.6M140.14,766.4v2.6M143.64,766.4v2.6M147.14,766.4v2.6M150.65,766.4v2.6M154.15,766.4v2.6M157.65,766.4v2.6M161.15,766.4v2.6M164.66,766.4v2.6M168.16,766.4v2.6M171.66,766.4v2.6M175.17,766.4v2.6M178.67,766.4v2.6M182.17,766.4v2.6M185.68,766.4v2.6M189.18,766.4v2.6M192.68,766.4v2.6M196.19,766.4v2.6M199.69,766.4v2.6M203.19,766.4v2.6M206.70,766.4v2.6M210.20,766.4v2.6M213.70,766.4v2.6M217.20,766.4v2.6M220.71,766.4v2.6M224.21,766.4v2.6M227.71,766.4v2.6M231.22,766.4v2.6M234.72,766.4v2.6M238.22,766.4v2.6M241.73,766.4v2.6M245.23,766.4v2.6M248.73,766.4v2.6M252.24,766.4v2.6M255.74,766.4v2.6M259.24,766.4v2.6M262.75,766.4v2.6M266.25,766.4v2.6M269.75,766.4v2.6M273.25,766.4v2.6M276.76,766.4v2.6M280.26,766.4v2.6M283.76,766.4v2.6M287.27,766.4v2.6M290.77,766.4v2.6M294.27,766.4v2.6M297.78,766.4v2.6M301.28,766.4v2.6M304.78,766.4v2.6M308.29,766.4v2.6M311.79,766.4v2.6M315.29,766.4v2.6M318.80,766.4v2.6M322.30,766.4v2.6M325.80,766.4v2.6M329.30,766.4v2.6M332.81,766.4v2.6M336.31,766.4v2.6M339.81,766.4v2.6M343.32,766.4v2.6M346.82,766.4v2.6M350.32,766.4v2.6M353.83,766.4v2.6M357.33,766.4v2.6M360.83,766.4v2.6M364.34,766.4v2.6M367.84,766.4v2.6M371.34,766.4v2.6M374.85,766.4v2.6M378.35,766.4v2.6" stroke="#333" stroke-width="0.9" fill="none"/>
<rect x="384.20" y="529.9" width="335.80" height="15.10" fill="#cbcbcb" stroke="#2b2b2b" stroke-width="1.3"/>
<text transform="translate(412.18,542.80) scale(1.1,1)" font-size="14.3" font-weight="400" fill="#111" text-anchor="middle" stroke="#111" stroke-width="0.3" stroke-linejoin="round" >C&gt;A</text>
<rect x="384.80" y="656.00" width="54.77" height="1.5" fill="#de2910" opacity="1.0"/>
<rect x="408.84" y="654.33" width="3.95" height="3.27" fill="#de2910"/>
<rect x="419.33" y="653.66" width="3.95" height="3.94" fill="#de2910"/>
<rect x="426.32" y="654.33" width="3.95" height="3.27" fill="#de2910"/>
<rect x="384.80" y="764.30" width="54.77" height="1.0" fill="#de2910" opacity="0.7"/>
<rect x="384.35" y="761.46" width="3.95" height="3.94" fill="#de2910"/>
<rect x="387.85" y="754.79" width="3.95" height="10.61" fill="#de2910"/>
<rect x="391.35" y="761.46" width="3.95" height="3.94" fill="#de2910"/>
<rect x="398.34" y="748.11" width="3.95" height="17.29" fill="#de2910"/>
<rect x="401.84" y="754.79" width="3.95" height="10.61" fill="#de2910"/>
<rect x="405.34" y="751.45" width="3.95" height="13.95" fill="#de2910"/>
<rect x="412.33" y="761.46" width="3.95" height="3.94" fill="#de2910"/>
<rect x="415.83" y="761.46" width="3.95" height="3.94" fill="#de2910"/>
<rect x="422.83" y="761.46" width="3.95" height="3.94" fill="#de2910"/>
<rect x="426.32" y="758.12" width="3.95" height="7.27" fill="#de2910"/>
<rect x="436.82" y="761.46" width="3.95" height="3.94" fill="#de2910"/>
<text transform="translate(468.15,542.80) scale(1.1,1)" font-size="14.3" font-weight="400" fill="#111" text-anchor="middle" stroke="#111" stroke-width="0.3" stroke-linejoin="round" >C&gt;G</text>
<rect x="440.77" y="656.00" width="54.77" height="1.5" fill="#1daa12" opacity="1.0"/>
<rect x="492.79" y="653.66" width="3.95" height="3.94" fill="#1daa12"/>
<rect x="440.77" y="764.30" width="54.77" height="1.0" fill="#1daa12" opacity="0.7"/>
<rect x="440.32" y="758.12" width="3.95" height="7.27" fill="#1daa12"/>
<rect x="443.81" y="754.79" width="3.95" height="10.61" fill="#1daa12"/>
<rect x="447.31" y="761.46" width="3.95" height="3.94" fill="#1daa12"/>
<rect x="450.81" y="754.79" width="3.95" height="10.61" fill="#1daa12"/>
<rect x="457.81" y="758.12" width="3.95" height="7.27" fill="#1daa12"/>
<rect x="461.30" y="761.46" width="3.95" height="3.94" fill="#1daa12"/>
<rect x="464.80" y="761.46" width="3.95" height="3.94" fill="#1daa12"/>
<rect x="468.30" y="758.12" width="3.95" height="7.27" fill="#1daa12"/>
<rect x="475.30" y="761.46" width="3.95" height="3.94" fill="#1daa12"/>
<rect x="478.79" y="761.46" width="3.95" height="3.94" fill="#1daa12"/>
<rect x="482.29" y="748.11" width="3.95" height="17.29" fill="#1daa12"/>
<rect x="485.79" y="758.12" width="3.95" height="7.27" fill="#1daa12"/>
<rect x="492.79" y="751.45" width="3.95" height="13.95" fill="#1daa12"/>
<text transform="translate(524.12,542.80) scale(1.1,1)" font-size="14.3" font-weight="400" fill="#111" text-anchor="middle" stroke="#111" stroke-width="0.3" stroke-linejoin="round" >C&gt;T</text>
<rect x="496.73" y="656.00" width="54.77" height="1.5" fill="#0a6cf5" opacity="1.0"/>
<rect x="496.28" y="653.66" width="3.95" height="3.94" fill="#0a6cf5"/>
<rect x="499.78" y="654.33" width="3.95" height="3.27" fill="#0a6cf5"/>
<rect x="506.78" y="653.66" width="3.95" height="3.94" fill="#0a6cf5"/>
<rect x="517.27" y="650.33" width="3.95" height="7.27" fill="#0a6cf5"/>
<rect x="527.76" y="653.66" width="3.95" height="3.94" fill="#0a6cf5"/>
<rect x="534.76" y="650.33" width="3.95" height="7.27" fill="#0a6cf5"/>
<rect x="541.76" y="653.66" width="3.95" height="3.94" fill="#0a6cf5"/>
<rect x="496.73" y="764.30" width="54.77" height="1.0" fill="#0a6cf5" opacity="0.7"/>
<rect x="496.28" y="734.76" width="3.95" height="30.64" fill="#0a6cf5"/>
<rect x="499.78" y="744.77" width="3.95" height="20.62" fill="#0a6cf5"/>
<rect x="503.28" y="741.44" width="3.95" height="23.96" fill="#0a6cf5"/>
<rect x="506.78" y="734.76" width="3.95" height="30.64" fill="#0a6cf5"/>
<rect x="510.27" y="751.45" width="3.95" height="13.95" fill="#0a6cf5"/>
<rect x="513.77" y="754.79" width="3.95" height="10.61" fill="#0a6cf5"/>
<rect x="517.27" y="734.76" width="3.95" height="30.64" fill="#0a6cf5"/>
<rect x="520.77" y="751.45" width="3.95" height="13.95" fill="#0a6cf5"/>
<rect x="524.27" y="754.79" width="3.95" height="10.61" fill="#0a6cf5"/>
<rect x="527.76" y="758.12" width="3.95" height="7.27" fill="#0a6cf5"/>
<rect x="531.26" y="734.76" width="3.95" height="30.64" fill="#0a6cf5"/>
<rect x="534.76" y="761.46" width="3.95" height="3.94" fill="#0a6cf5"/>
<rect x="538.26" y="748.11" width="3.95" height="17.29" fill="#0a6cf5"/>
<rect x="541.76" y="751.45" width="3.95" height="13.95" fill="#0a6cf5"/>
<rect x="545.25" y="761.46" width="3.95" height="3.94" fill="#0a6cf5"/>
<rect x="548.75" y="744.77" width="3.95" height="20.62" fill="#0a6cf5"/>
<text transform="translate(580.08,542.80) scale(1.1,1)" font-size="14.3" font-weight="400" fill="#111" text-anchor="middle" stroke="#111" stroke-width="0.3" stroke-linejoin="round" >T&gt;A</text>
<rect x="552.70" y="656.00" width="54.77" height="1.5" fill="#16d7f3" opacity="1.0"/>
<rect x="587.23" y="653.66" width="3.95" height="3.94" fill="#16d7f3"/>
<rect x="594.23" y="653.66" width="3.95" height="3.94" fill="#16d7f3"/>
<rect x="552.70" y="764.30" width="54.77" height="1.0" fill="#16d7f3" opacity="0.7"/>
<rect x="559.25" y="754.79" width="3.95" height="10.61" fill="#16d7f3"/>
<rect x="562.74" y="761.46" width="3.95" height="3.94" fill="#16d7f3"/>
<rect x="566.24" y="761.46" width="3.95" height="3.94" fill="#16d7f3"/>
<rect x="569.74" y="761.46" width="3.95" height="3.94" fill="#16d7f3"/>
<rect x="573.24" y="758.12" width="3.95" height="7.27" fill="#16d7f3"/>
<rect x="576.74" y="758.12" width="3.95" height="7.27" fill="#16d7f3"/>
<rect x="580.23" y="761.46" width="3.95" height="3.94" fill="#16d7f3"/>
<rect x="583.73" y="761.46" width="3.95" height="3.94" fill="#16d7f3"/>
<rect x="590.73" y="754.79" width="3.95" height="10.61" fill="#16d7f3"/>
<rect x="594.23" y="758.12" width="3.95" height="7.27" fill="#16d7f3"/>
<rect x="601.22" y="761.46" width="3.95" height="3.94" fill="#16d7f3"/>
<rect x="604.72" y="754.79" width="3.95" height="10.61" fill="#16d7f3"/>
<text transform="translate(636.05,542.80) scale(1.1,1)" font-size="14.3" font-weight="400" fill="#111" text-anchor="middle" stroke="#111" stroke-width="0.3" stroke-linejoin="round" >T&gt;C</text>
<rect x="608.67" y="656.00" width="54.77" height="1.5" fill="#f76ad6" opacity="1.0"/>
<rect x="615.21" y="653.66" width="3.95" height="3.94" fill="#f76ad6"/>
<rect x="622.21" y="654.33" width="3.95" height="3.27" fill="#f76ad6"/>
<rect x="629.20" y="643.65" width="3.95" height="13.95" fill="#f76ad6"/>
<rect x="636.20" y="650.33" width="3.95" height="7.27" fill="#f76ad6"/>
<rect x="639.70" y="653.66" width="3.95" height="3.94" fill="#f76ad6"/>
<rect x="643.20" y="650.33" width="3.95" height="7.27" fill="#f76ad6"/>
<rect x="650.19" y="653.66" width="3.95" height="3.94" fill="#f76ad6"/>
<rect x="653.69" y="654.33" width="3.95" height="3.27" fill="#f76ad6"/>
<rect x="608.67" y="764.30" width="54.77" height="1.0" fill="#f76ad6" opacity="0.7"/>
<rect x="608.22" y="734.76" width="3.95" height="30.64" fill="#f76ad6"/>
<rect x="611.71" y="751.45" width="3.95" height="13.95" fill="#f76ad6"/>
<rect x="615.21" y="711.40" width="3.95" height="54.00" fill="#f76ad6"/>
<rect x="618.71" y="748.11" width="3.95" height="17.29" fill="#f76ad6"/>
<rect x="622.21" y="734.76" width="3.95" height="30.64" fill="#f76ad6"/>
<rect x="625.71" y="718.07" width="3.95" height="47.33" fill="#f76ad6"/>
<rect x="629.20" y="678.02" width="3.95" height="87.37" fill="#f76ad6"/>
<rect x="632.70" y="721.41" width="3.95" height="43.99" fill="#f76ad6"/>
<rect x="636.20" y="738.10" width="3.95" height="27.30" fill="#f76ad6"/>
<rect x="639.70" y="738.10" width="3.95" height="27.30" fill="#f76ad6"/>
<rect x="643.20" y="714.74" width="3.95" height="50.66" fill="#f76ad6"/>
<rect x="646.69" y="738.10" width="3.95" height="27.30" fill="#f76ad6"/>
<rect x="650.19" y="748.11" width="3.95" height="17.29" fill="#f76ad6"/>
<rect x="653.69" y="728.09" width="3.95" height="37.31" fill="#f76ad6"/>
<rect x="657.19" y="738.10" width="3.95" height="27.30" fill="#f76ad6"/>
<rect x="660.69" y="758.12" width="3.95" height="7.27" fill="#f76ad6"/>
<text transform="translate(692.02,542.80) scale(1.1,1)" font-size="14.3" font-weight="400" fill="#111" text-anchor="middle" stroke="#111" stroke-width="0.3" stroke-linejoin="round" >T&gt;G</text>
<rect x="664.63" y="656.00" width="54.77" height="1.5" fill="#f6b267" opacity="1.0"/>
<rect x="671.18" y="654.33" width="3.95" height="3.27" fill="#f6b267"/>
<rect x="674.68" y="653.66" width="3.95" height="3.94" fill="#f6b267"/>
<rect x="664.63" y="764.30" width="54.77" height="1.0" fill="#f6b267" opacity="0.7"/>
<rect x="664.18" y="761.46" width="3.95" height="3.94" fill="#f6b267"/>
<rect x="671.18" y="761.46" width="3.95" height="3.94" fill="#f6b267"/>
<rect x="674.68" y="761.46" width="3.95" height="3.94" fill="#f6b267"/>
<rect x="678.17" y="761.46" width="3.95" height="3.94" fill="#f6b267"/>
<rect x="681.67" y="754.79" width="3.95" height="10.61" fill="#f6b267"/>
<rect x="685.17" y="754.79" width="3.95" height="10.61" fill="#f6b267"/>
<rect x="695.66" y="754.79" width="3.95" height="10.61" fill="#f6b267"/>
<rect x="699.16" y="751.45" width="3.95" height="13.95" fill="#f6b267"/>
<rect x="702.66" y="748.11" width="3.95" height="17.29" fill="#f6b267"/>
<rect x="706.16" y="754.79" width="3.95" height="10.61" fill="#f6b267"/>
<rect x="709.66" y="748.11" width="3.95" height="17.29" fill="#f6b267"/>
<rect x="713.15" y="748.11" width="3.95" height="17.29" fill="#f6b267"/>
<line x1="398.19" y1="545.0" x2="398.19" y2="766.4" stroke="#000" stroke-width="1.2" stroke-dasharray="3.2,2.2"/>
<line x1="412.18" y1="545.0" x2="412.18" y2="766.4" stroke="#000" stroke-width="1.2" stroke-dasharray="3.2,2.2"/>
<line x1="426.18" y1="545.0" x2="426.18" y2="766.4" stroke="#000" stroke-width="1.2" stroke-dasharray="3.2,2.2"/>
<line x1="510.12" y1="545.0" x2="510.12" y2="766.4" stroke="#000" stroke-width="1.2" stroke-dasharray="3.2,2.2"/>
<line x1="524.12" y1="545.0" x2="524.12" y2="766.4" stroke="#000" stroke-width="1.2" stroke-dasharray="3.2,2.2"/>
<line x1="538.11" y1="545.0" x2="538.11" y2="766.4" stroke="#000" stroke-width="1.2" stroke-dasharray="3.2,2.2"/>
<line x1="622.06" y1="545.0" x2="622.06" y2="766.4" stroke="#000" stroke-width="1.2" stroke-dasharray="3.2,2.2"/>
<line x1="636.05" y1="545.0" x2="636.05" y2="766.4" stroke="#000" stroke-width="1.2" stroke-dasharray="3.2,2.2"/>
<line x1="650.04" y1="545.0" x2="650.04" y2="766.4" stroke="#000" stroke-width="1.2" stroke-dasharray="3.2,2.2"/>
<polygon points="515.47,636.53 522.27,636.53 518.87,649.53" fill="#1a1718"/>
<polygon points="614.06,640.61 619.56,640.61 616.81,651.26" fill="#fff" stroke="#111" stroke-width="1.55" stroke-linejoin="miter"/>
<polygon points="628.05,630.60 633.55,630.60 630.80,641.25" fill="#fff" stroke="#111" stroke-width="1.55" stroke-linejoin="miter"/>
<polygon points="515.47,720.96 522.27,720.96 518.87,733.96" fill="#1a1718"/>
<polygon points="529.46,720.96 536.26,720.96 532.86,733.96" fill="#1a1718"/>
<polygon points="614.06,698.35 619.56,698.35 616.81,709.00" fill="#fff" stroke="#111" stroke-width="1.55" stroke-linejoin="miter"/>
<polygon points="628.05,664.98 633.55,664.98 630.80,675.62" fill="#fff" stroke="#111" stroke-width="1.55" stroke-linejoin="miter"/>
<polygon points="642.04,701.69 647.54,701.69 644.79,712.34" fill="#fff" stroke="#111" stroke-width="1.55" stroke-linejoin="miter"/>
<line x1="384.90" y1="545.0" x2="384.90" y2="766.4" stroke="#4a4a4a" stroke-width="1"/>
<line x1="719.70" y1="545.0" x2="719.70" y2="766.4" stroke="#4a4a4a" stroke-width="0.9"/>
<line x1="440.17" y1="529.9" x2="440.17" y2="766.4" stroke="#000" stroke-width="1.55"/>
<line x1="496.13" y1="529.9" x2="496.13" y2="766.4" stroke="#000" stroke-width="1.55"/>
<line x1="552.10" y1="529.9" x2="552.10" y2="766.4" stroke="#000" stroke-width="1.55"/>
<line x1="608.07" y1="529.9" x2="608.07" y2="766.4" stroke="#000" stroke-width="1.55"/>
<line x1="664.03" y1="529.9" x2="664.03" y2="766.4" stroke="#000" stroke-width="1.55"/>
<line x1="384.20" y1="658.9" x2="720.00" y2="658.9" stroke="#4a4a4a" stroke-width="1.3"/>
<line x1="384.20" y1="766.4" x2="720.00" y2="766.4" stroke="#4a4a4a" stroke-width="1.2"/>
<path d="M385.95,766.4v2.6M389.45,766.4v2.6M392.94,766.4v2.6M396.44,766.4v2.6M399.94,766.4v2.6M403.44,766.4v2.6M406.94,766.4v2.6M410.43,766.4v2.6M413.93,766.4v2.6M417.43,766.4v2.6M420.93,766.4v2.6M424.43,766.4v2.6M427.92,766.4v2.6M431.42,766.4v2.6M434.92,766.4v2.6M438.42,766.4v2.6M441.92,766.4v2.6M445.41,766.4v2.6M448.91,766.4v2.6M452.41,766.4v2.6M455.91,766.4v2.6M459.41,766.4v2.6M462.90,766.4v2.6M466.40,766.4v2.6M469.90,766.4v2.6M473.40,766.4v2.6M476.89,766.4v2.6M480.39,766.4v2.6M483.89,766.4v2.6M487.39,766.4v2.6M490.89,766.4v2.6M494.38,766.4v2.6M497.88,766.4v2.6M501.38,766.4v2.6M504.88,766.4v2.6M508.38,766.4v2.6M511.87,766.4v2.6M515.37,766.4v2.6M518.87,766.4v2.6M522.37,766.4v2.6M525.87,766.4v2.6M529.36,766.4v2.6M532.86,766.4v2.6M536.36,766.4v2.6M539.86,766.4v2.6M543.36,766.4v2.6M546.85,766.4v2.6M550.35,766.4v2.6M553.85,766.4v2.6M557.35,766.4v2.6M560.84,766.4v2.6M564.34,766.4v2.6M567.84,766.4v2.6M571.34,766.4v2.6M574.84,766.4v2.6M578.33,766.4v2.6M581.83,766.4v2.6M585.33,766.4v2.6M588.83,766.4v2.6M592.33,766.4v2.6M595.82,766.4v2.6M599.32,766.4v2.6M602.82,766.4v2.6M606.32,766.4v2.6M609.82,766.4v2.6M613.31,766.4v2.6M616.81,766.4v2.6M620.31,766.4v2.6M623.81,766.4v2.6M627.31,766.4v2.6M630.80,766.4v2.6M634.30,766.4v2.6M637.80,766.4v2.6M641.30,766.4v2.6M644.79,766.4v2.6M648.29,766.4v2.6M651.79,766.4v2.6M655.29,766.4v2.6M658.79,766.4v2.6M662.28,766.4v2.6M665.78,766.4v2.6M669.28,766.4v2.6M672.78,766.4v2.6M676.28,766.4v2.6M679.77,766.4v2.6M683.27,766.4v2.6M686.77,766.4v2.6M690.27,766.4v2.6M693.77,766.4v2.6M697.26,766.4v2.6M700.76,766.4v2.6M704.26,766.4v2.6M707.76,766.4v2.6M711.26,766.4v2.6M714.75,766.4v2.6M718.25,766.4v2.6" stroke="#333" stroke-width="0.9" fill="none"/>
<line x1="39.6" y1="657.45" x2="43.8" y2="657.45" stroke="#333" stroke-width="1"/>
<text transform="translate(36.60,663.35) scale(1.08,1)" font-size="15.5" font-weight="400" fill="#000" text-anchor="end" stroke="#000" stroke-width="0.2" stroke-linejoin="round" >0</text>
<line x1="39.6" y1="630.75" x2="43.8" y2="630.75" stroke="#333" stroke-width="1"/>
<text transform="translate(36.60,636.65) scale(1.08,1)" font-size="15.5" font-weight="400" fill="#000" text-anchor="end" stroke="#000" stroke-width="0.2" stroke-linejoin="round" >2</text>
<line x1="39.6" y1="604.05" x2="43.8" y2="604.05" stroke="#333" stroke-width="1"/>
<text transform="translate(36.60,609.95) scale(1.08,1)" font-size="15.5" font-weight="400" fill="#000" text-anchor="end" stroke="#000" stroke-width="0.2" stroke-linejoin="round" >4</text>
<line x1="39.6" y1="577.35" x2="43.8" y2="577.35" stroke="#333" stroke-width="1"/>
<text transform="translate(36.60,583.25) scale(1.08,1)" font-size="15.5" font-weight="400" fill="#000" text-anchor="end" stroke="#000" stroke-width="0.2" stroke-linejoin="round" >6</text>
<line x1="39.6" y1="765.25" x2="43.8" y2="765.25" stroke="#333" stroke-width="1"/>
<text transform="translate(36.60,771.15) scale(1.08,1)" font-size="15.5" font-weight="400" fill="#000" text-anchor="end" stroke="#000" stroke-width="0.2" stroke-linejoin="round" >0</text>
<line x1="39.6" y1="738.55" x2="43.8" y2="738.55" stroke="#333" stroke-width="1"/>
<text transform="translate(36.60,744.45) scale(1.08,1)" font-size="15.5" font-weight="400" fill="#000" text-anchor="end" stroke="#000" stroke-width="0.2" stroke-linejoin="round" >2</text>
<line x1="39.6" y1="711.85" x2="43.8" y2="711.85" stroke="#333" stroke-width="1"/>
<text transform="translate(36.60,717.75) scale(1.08,1)" font-size="15.5" font-weight="400" fill="#000" text-anchor="end" stroke="#000" stroke-width="0.2" stroke-linejoin="round" >4</text>
<line x1="39.6" y1="685.15" x2="43.8" y2="685.15" stroke="#333" stroke-width="1"/>
<text transform="translate(36.60,691.05) scale(1.08,1)" font-size="15.5" font-weight="400" fill="#000" text-anchor="end" stroke="#000" stroke-width="0.2" stroke-linejoin="round" >6</text>
<text transform="translate(16.9,656.5) rotate(-90) scale(1,1.13)" font-size="15" font-weight="700" fill="#000" stroke="#000" stroke-width="0.35" text-anchor="middle">No. of SNVs</text>
<text transform="translate(211.50,524.30) scale(1.0,1)" font-size="18" font-weight="400" fill="#111" text-anchor="middle" stroke="#111" stroke-width="0.15" stroke-linejoin="round" >GOH</text>
<text transform="translate(552.20,524.30) scale(1.0,1)" font-size="18" font-weight="400" fill="#111" text-anchor="middle" stroke="#111" stroke-width="0.15" stroke-linejoin="round" >LOH</text>
<text transform="translate(381.70,793.20) scale(1.0,1)" font-size="17.5" font-weight="700" fill="#000000" text-anchor="middle" stroke="#000000" stroke-width="0.35" stroke-linejoin="round" >Context</text>
<rect x="45.5" y="775.2" width="188.5" height="29.799999999999955" fill="#fff" stroke="#222" stroke-width="1.1"/>
<path d="M45.5,766.4 V775.2 M97.3,766.4 V770.5 L234.0,775.2" fill="none" stroke="#222" stroke-width="1"/>
<text transform="translate(57.59,805.60) rotate(-90) scale(1,1.09)" font-size="13.6" font-weight="400" fill="#000" stroke="#000" stroke-width="0.25" text-anchor="start">ACA</text>
<text transform="translate(69.37,805.60) rotate(-90) scale(1,1.09)" font-size="13.6" font-weight="400" fill="#000" stroke="#000" stroke-width="0.25" text-anchor="start">ACC</text>
<text transform="translate(81.15,805.60) rotate(-90) scale(1,1.09)" font-size="13.6" font-weight="400" fill="#000" stroke="#000" stroke-width="0.25" text-anchor="start">ACG</text>
<text transform="translate(92.93,805.60) rotate(-90) scale(1,1.09)" font-size="13.6" font-weight="400" fill="#000" stroke="#000" stroke-width="0.25" text-anchor="start">ACT</text>
<text transform="translate(104.72,805.60) rotate(-90) scale(1,1.09)" font-size="13.6" font-weight="400" fill="#000" stroke="#000" stroke-width="0.25" text-anchor="start">CCA</text>
<text transform="translate(116.50,805.60) rotate(-90) scale(1,1.09)" font-size="13.6" font-weight="400" fill="#000" stroke="#000" stroke-width="0.25" text-anchor="start">CCC</text>
<text transform="translate(128.28,805.60) rotate(-90) scale(1,1.09)" font-size="13.6" font-weight="400" fill="#000" stroke="#000" stroke-width="0.25" text-anchor="start">CCG</text>
<text transform="translate(140.06,805.60) rotate(-90) scale(1,1.09)" font-size="13.6" font-weight="400" fill="#000" stroke="#000" stroke-width="0.25" text-anchor="start">CCT</text>
<text transform="translate(151.84,805.60) rotate(-90) scale(1,1.09)" font-size="13.6" font-weight="400" fill="#000" stroke="#000" stroke-width="0.25" text-anchor="start">GCA</text>
<text transform="translate(163.62,805.60) rotate(-90) scale(1,1.09)" font-size="13.6" font-weight="400" fill="#000" stroke="#000" stroke-width="0.25" text-anchor="start">GCC</text>
<text transform="translate(175.40,805.60) rotate(-90) scale(1,1.09)" font-size="13.6" font-weight="400" fill="#000" stroke="#000" stroke-width="0.25" text-anchor="start">GCG</text>
<text transform="translate(187.18,805.60) rotate(-90) scale(1,1.09)" font-size="13.6" font-weight="400" fill="#000" stroke="#000" stroke-width="0.25" text-anchor="start">GCT</text>
<text transform="translate(198.97,805.60) rotate(-90) scale(1,1.09)" font-size="13.6" font-weight="400" fill="#000" stroke="#000" stroke-width="0.25" text-anchor="start">TCA</text>
<text transform="translate(210.75,805.60) rotate(-90) scale(1,1.09)" font-size="13.6" font-weight="400" fill="#000" stroke="#000" stroke-width="0.25" text-anchor="start">TCC</text>
<text transform="translate(222.53,805.60) rotate(-90) scale(1,1.09)" font-size="13.6" font-weight="400" fill="#000" stroke="#000" stroke-width="0.25" text-anchor="start">TCG</text>
<text transform="translate(234.31,805.60) rotate(-90) scale(1,1.09)" font-size="13.6" font-weight="400" fill="#000" stroke="#000" stroke-width="0.25" text-anchor="start">TCT</text>
<line x1="92.62" y1="775.2" x2="92.62" y2="805.0" stroke="#222" stroke-width="0.9"/>
<line x1="139.75" y1="775.2" x2="139.75" y2="805.0" stroke="#222" stroke-width="0.9"/>
<line x1="186.88" y1="775.2" x2="186.88" y2="805.0" stroke="#222" stroke-width="0.9"/>
<path d="M723.70,552.60 C726.82,553.40 728.50,557.10 728.50,565.60 V594.90 C728.50,598.90 729.59,601.00 731.60,601.90 C729.59,602.80 728.50,604.90 728.50,608.90 V638.20 C728.50,646.70 726.82,650.40 723.70,651.20" fill="none" stroke="#000" stroke-width="1.45" stroke-linecap="round"/>
<path d="M723.70,661.20 C726.82,662.00 728.50,665.70 728.50,674.20 V703.55 C728.50,707.55 729.59,709.65 731.60,710.55 C729.59,711.45 728.50,713.55 728.50,717.55 V746.90 C728.50,755.40 726.82,759.10 723.70,759.90" fill="none" stroke="#000" stroke-width="1.45" stroke-linecap="round"/>
<path d="M754.10,607.40 C756.89,608.20 758.40,611.90 758.40,620.40 V649.55 C758.40,653.55 759.55,655.65 761.70,656.55 C759.55,657.45 758.40,659.55 758.40,663.55 V692.70 C758.40,701.20 756.89,704.90 754.10,705.70" fill="none" stroke="#000" stroke-width="1.45" stroke-linecap="round"/>
<text transform="translate(737.28,601.80) rotate(90) scale(1,1.1)" font-size="16.3" font-weight="700" fill="#000" stroke="#000" stroke-width="0.35" text-anchor="middle">Δ10-5</text>
<text transform="translate(737.28,710.10) rotate(90) scale(1,1.1)" font-size="16.3" font-weight="700" fill="#000" stroke="#000" stroke-width="0.35" text-anchor="middle">Δ14-10</text>
<text transform="translate(769.58,657.30) rotate(90) scale(1,1.1)" font-size="15.8" font-weight="700" fill="#000" stroke="#000" stroke-width="0.35" text-anchor="middle">HeLa</text>
</svg>
</body>
</html>
